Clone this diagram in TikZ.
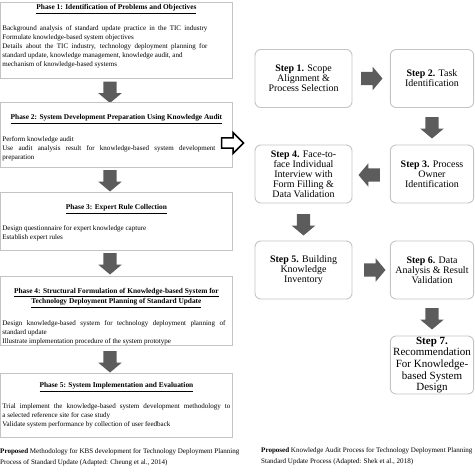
\documentclass[tikz,border=0pt]{standalone}
\usepackage{fontspec}
\setmainfont{Liberation Serif}
\usetikzlibrary{shapes.arrows}
\definecolor{arrowgrey}{HTML}{5C5C5C}
\definecolor{boxgrey}{HTML}{C4C4C4}
\newcommand{\phasetitle}[3]{\vspace*{#1}{\centering\fontsize{6.3}{7.6}\selectfont\bfseries #3\par}\vspace{10pt}\rightskip=#2\relax}
\newcommand{\ul}[1]{\underline{#1}}
\tikzset{
  phasebox/.style={draw=boxgrey, line width=0.7pt, anchor=north west, inner xsep=0.06cm, inner ysep=0pt, font=\fontsize{6}{7.6}\selectfont},
  stepbox/.style={draw=boxgrey, line width=0.8pt, rounded corners=5pt, minimum width=2.5cm, minimum height=1.74cm, inner sep=1pt, align=center, font=\fontsize{8.5}{8.6}\selectfont},
  blockarrow/.style={single arrow, fill=arrowgrey, minimum height=0.64cm, inner xsep=0.08cm, inner ysep=0.195cm, single arrow head extend=0.15cm, single arrow tip angle=100},
  hollowarrow/.style={single arrow, draw=black, fill=white, line width=1.4pt, minimum height=0.66cm, inner xsep=0.1cm, inner ysep=0.13cm, single arrow head extend=0.16cm},
  caption/.style={anchor=north west, inner sep=0pt, align=left, font=\fontsize{6}{9.4}\selectfont}
}
\begin{document}
\begin{tikzpicture}[x=0.03cm,y=-0.03cm]
  \useasboundingbox (0,0) rectangle (474,474);
  %% phase 1
  \node[phasebox] (phase1) at (0,2) {\parbox[t][2.28cm][t]{6.84cm}{\phasetitle{2pt}{0.69cm}{\ul{Phase 1: Identification of Problems and Objectives}}
    Background analysis of standard update practice in the TIC industry\linebreak
    Formulate knowledge-based system objectives\\
    Details about the TIC industry, technology deployment planning for\linebreak
    standard update, knowledge management, knowledge audit, and\\
    mechanism of knowledge-based systems}};
  \node[blockarrow, rotate=-90] (arrow12) at (110,89.5) {};
  %% phase 2
  \node[phasebox] (phase2) at (0,102) {\parbox[t][1.95cm][t]{6.84cm}{\phasetitle{10.5pt}{0.45cm}{\ul{Phase 2: System Development Preparation Using Knowledge Audit}}
    Perform knowledge audit\\
    Use audit analysis result for knowledge-based system development\linebreak
    preparation}};
  \node[hollowarrow] (toaudit) at (230,143) {};
  \node[blockarrow, rotate=-90] (arrow23) at (110,178) {};
  %% phase 3
  \node[phasebox] (phase3) at (0,192) {\parbox[t][1.74cm][t]{6.84cm}{\phasetitle{10.5pt}{0pt}{\ul{Phase 3: Expert Rule Collection}}
    Design questionnaire for expert knowledge capture\\
    Establish expert rules}};
  \node[blockarrow, rotate=-90] (arrow34) at (110,261) {};
  %% phase 4
  \node[phasebox] (phase4) at (0,276) {\parbox[t][2.07cm][t]{6.84cm}{\phasetitle{10pt}{0.15cm}{\ul{Phase 4: Structural Formulation of Knowledge-based System for}\\
      \ul{Technology Deployment Planning of Standard Update}}
    Design knowledge-based system for technology deployment planning of\linebreak
    standard update\\
    Illustrate implementation procedure of the system prototype}};
  \node[blockarrow, rotate=-90] (arrow45) at (110,359) {};
  %% phase 5
  \node[phasebox] (phase5) at (0,373) {\parbox[t][1.92cm][t]{6.84cm}{\phasetitle{8pt}{0pt}{\ul{Phase 5: System Implementation and Evaluation}}
    Trial implement the knowledge-based system development methodology to\linebreak
    a selected reference site for case study\\
    Validate system performance by collection of user feedback}};
  \node[caption] (leftcaption) at (0,448) {\textbf{Proposed} Methodology for KBS development for Technology Deployment Planning\\
    Process of Standard Update (Adapted: Cheung et al., 2014)};
  %% audit steps
  \node[stepbox, minimum width=2.91cm] (step1) at (303.5,78.5) {\textbf{Step 1.} Scope\\Alignment \& \\Process Selection};
  \node[blockarrow] (arrows12) at (369,78.5) {};
  \node[stepbox] (step2) at (432,78.5) {\textbf{Step 2.} Task\\Identification};
  \node[blockarrow, rotate=-90] (arrows23) at (432,125) {};
  \node[stepbox] (step3) at (432,174) {\textbf{Step 3.} Process\\Owner\\Identification};
  \node[blockarrow, rotate=180] (arrows34) at (372,175) {};
  \node[stepbox, minimum width=2.91cm] (step4) at (303.5,174) {\textbf{Step 4.} Face-to-\\face Individual\\Interview with\\Form Filling \& \\Data Validation};
  \node[blockarrow, rotate=-90] (arrows45) at (303.5,222) {};
  \node[stepbox, minimum width=2.91cm] (step5) at (303.5,270) {\textbf{Step 5.} Building\\Knowledge\\Inventory};
  \node[blockarrow] (arrows56) at (372,270) {};
  \node[stepbox] (step6) at (432,270) {\textbf{Step 6.} Data\\Analysis \& Result\\Validation};
  \node[blockarrow, rotate=-90] (arrows67) at (432,316) {};
  \node[stepbox, inner sep=0pt, font=\fontsize{9.4}{10}\selectfont] (step7) at (432,365) {\textbf{Step 7.}\\Recommendation\\For Knowledge-\\based System\\Design};
  \node[caption] (rightcaption) at (261,447) {\textbf{Proposed} Knowledge Audit Process for Technology Deployment Planning\\
    Standard Update Process (Adapted: Shek et al., 2018)};
\end{tikzpicture}
\end{document}
